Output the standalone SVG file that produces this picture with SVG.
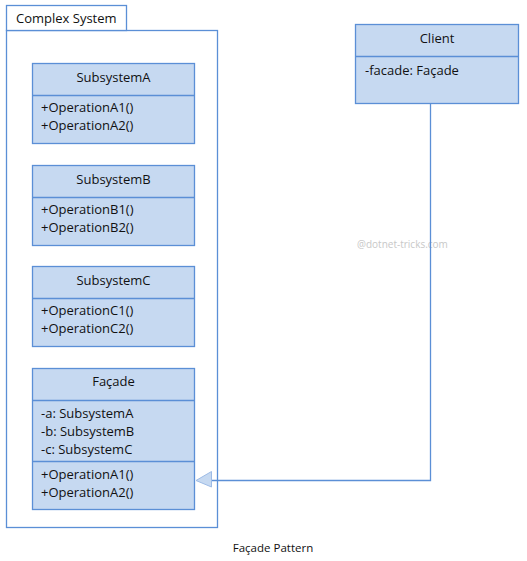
<svg xmlns="http://www.w3.org/2000/svg" width="527" height="561" viewBox="0 0 527 561">
<style>
.box{fill:#c6d9f1;stroke:#5b8fd6;stroke-width:1.3}
.div{stroke:#5b8fd6;stroke-width:1.3}
.frame{fill:#fff;stroke:#5b8fd6;stroke-width:1.3}
text{font-family:"Open Sans","Liberation Sans",sans-serif;font-size:13px;fill:#111}
.c{text-anchor:middle}
.wm{fill:#c8c8c8;font-size:10px}
</style>
<rect width="527" height="561" fill="#fff"/>
<g id="complex-system">
<rect class="frame" x="6.5" y="30.5" width="211" height="497"/>
<rect class="frame" x="6.5" y="5.5" width="120" height="25"/>
<text x="16" y="23">Complex System</text>
</g>
<g id="subsystemA">
<rect class="box" x="32.5" y="63.5" width="162" height="80"/>
<line class="div" x1="32.5" y1="95.5" x2="194.5" y2="95.5"/>
<text class="c" x="113.5" y="82">SubsystemA</text>
<text x="41" y="112">+OperationA1()</text>
<text x="41" y="130">+OperationA2()</text>
</g>
<g id="subsystemB">
<rect class="box" x="32.5" y="165.5" width="162" height="80"/>
<line class="div" x1="32.5" y1="197.5" x2="194.5" y2="197.5"/>
<text class="c" x="113.5" y="184">SubsystemB</text>
<text x="41" y="214">+OperationB1()</text>
<text x="41" y="232">+OperationB2()</text>
</g>
<g id="subsystemC">
<rect class="box" x="32.5" y="266.5" width="162" height="80"/>
<line class="div" x1="32.5" y1="298.5" x2="194.5" y2="298.5"/>
<text class="c" x="113.5" y="285">SubsystemC</text>
<text x="41" y="315">+OperationC1()</text>
<text x="41" y="333">+OperationC2()</text>
</g>
<g id="facade">
<rect class="box" x="32.5" y="368.5" width="162" height="141"/>
<line class="div" x1="32.5" y1="400.5" x2="194.5" y2="400.5"/>
<line class="div" x1="32.5" y1="461.5" x2="194.5" y2="461.5"/>
<text class="c" x="113.5" y="386">Façade</text>
<text x="41" y="418">-a: SubsystemA</text>
<text x="41" y="436">-b: SubsystemB</text>
<text x="41" y="454">-c: SubsystemC</text>
<text x="41" y="479">+OperationA1()</text>
<text x="41" y="497">+OperationA2()</text>
</g>
<g id="client">
<rect class="box" x="355.5" y="24.5" width="163" height="79"/>
<line class="div" x1="355.5" y1="56.5" x2="518.5" y2="56.5"/>
<text class="c" x="437" y="43">Client</text>
<text x="365" y="75">-facade: Façade</text>
</g>
<text class="wm" x="357" y="248">@dotnet-tricks.com</text>
<g id="connectors">
<polyline points="430.5,103.5 430.5,480.5 211.5,480.5" fill="none" stroke="#5b8fd6" stroke-width="1.3"/>
<polygon points="196,480.5 211.5,471.5 211.5,487" fill="#c6d9f1" stroke="#9dbbe6" stroke-width="1"/>
</g>
<text class="c" x="273" y="552" style="font-size:11.5px">Façade Pattern</text>
</svg>
